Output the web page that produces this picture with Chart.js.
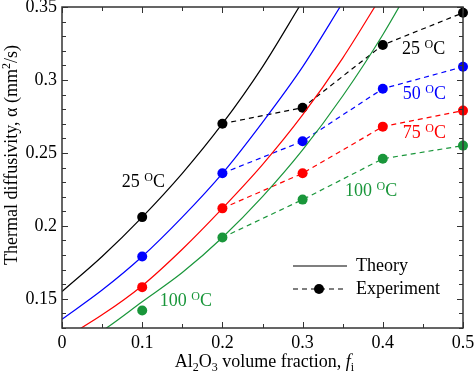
<!DOCTYPE html>
<html>
<head>
<meta charset="utf-8">
<script src="https://cdn.jsdelivr.net/npm/chart.js@4.4.0/dist/chart.umd.min.js"></script>
<style>
  html, body { margin: 0; padding: 0; background: #fff; }
  #wrap { width: 474px; height: 374px; }
</style>
</head>
<body>
<div id="wrap"><canvas id="myChart" width="474" height="374"></canvas></div>
<script>
// experiment, measured at these volume fractions
const fractions = [0.1, 0.2, 0.3, 0.4, 0.5];
const exp25 = [0.206, 0.270, 0.281, 0.324, 0.346];
const exp50 = [0.179, 0.236, 0.258, 0.294, 0.309];
const exp75 = [0.158, 0.212, 0.236, 0.268, 0.279];
const exp100 = [0.142, 0.192, 0.218, 0.246, 0.255];

const theoryFractions = [0, 0.05, 0.1, 0.15, 0.2, 0.25, 0.3, 0.35, 0.4, 0.45];
const theory25 = [0.155, 0.179, 0.206, 0.236, 0.270, 0.309, 0.354];
const theory50 = [0.136, 0.156, 0.179, 0.206, 0.236, 0.271, 0.309, 0.353];
const theory75 = [0.122, 0.139, 0.159, 0.184, 0.212, 0.242, 0.276, 0.315, 0.359];
const theory100 = [0.112, 0.128, 0.148, 0.168, 0.192, 0.220, 0.252, 0.289, 0.331, 0.379];

const xTicks = [0, 0.1, 0.2, 0.3, 0.4, 0.5];
const yTicks = [0.15, 0.2, 0.25, 0.3, 0.35];

const tempNames = ['25', '50', '75', '100'];
const colors = ['#000000', '#0000ff', '#ff0000', '#19963a'];

// label anchors in data units [fraction, diffusivity]
const labelSpots = [
    { text: '25', color: colors[0], at: [0.0745, 0.2267] },
    { text: '25', color: colors[0], at: [0.424, 0.3178] },
    { text: '50', color: colors[1], at: [0.425, 0.287] },
    { text: '75', color: colors[2], at: [0.425, 0.2603] },
    { text: '100', color: colors[3], at: [0.353, 0.2206] },
    { text: '100', color: colors[3], at: [0.122, 0.1452] }
];

const FONT = '"Liberation Serif", "Times New Roman", serif';

function pairs(xs, ys) {
    const out = [];
    for (let i = 0; i < ys.length; i += 1) {
        out.push({ x: xs[i], y: ys[i] });
    }
    return out;
}

const theorySets = [theory25, theory50, theory75, theory100];
const expSets = [exp25, exp50, exp75, exp100];
const datasets = [];
for (let i = 0; i < 4; i += 1) {
    datasets.push({
        label: 'Theory ' + tempNames[i],
        data: pairs(theoryFractions, theorySets[i]),
        borderColor: colors[i],
        borderWidth: 1.2,
        pointRadius: 0,
        cubicInterpolationMode: 'monotone',
        fill: false
    });
}
for (let i = 0; i < 4; i += 1) {
    const c = colors[i];
    datasets.push({
        label: 'Experiment ' + tempNames[i],
        data: pairs(fractions, expSets[i]),
        borderColor: c,
        backgroundColor: c,
        borderWidth: 1.2,
        borderDash: [5, 4],
        // no dashed link between the first two points
        segment: { borderColor: s => s.p0DataIndex === 0 ? 'rgba(0,0,0,0)' : c },
        pointRadius: 5,
        pointBorderWidth: 0,
        pointBackgroundColor: c,
        fill: false,
        clip: false
    });
}

function drawDegree(ctx, num, x, y, color) {
    ctx.fillStyle = color;
    ctx.textAlign = 'left';
    ctx.textBaseline = 'alphabetic';
    ctx.font = '18px ' + FONT;
    const a = num + ' ';
    ctx.fillText(a, x, y);
    let cx = x + ctx.measureText(a).width;
    ctx.font = '12px ' + FONT;
    ctx.fillText('O', cx, y - 6);
    cx += ctx.measureText('O').width;
    ctx.font = '18px ' + FONT;
    ctx.fillText('C', cx, y);
}

// pieces: [text, size, italic, dy]
function drawPieces(ctx, pieces, x, y) {
    let w = 0;
    for (const p of pieces) {
        ctx.font = (p[2] ? 'italic ' : '') + p[1] + 'px ' + FONT;
        w += ctx.measureText(p[0]).width;
    }
    let cx = x - w / 2;
    for (const p of pieces) {
        ctx.font = (p[2] ? 'italic ' : '') + p[1] + 'px ' + FONT;
        ctx.fillText(p[0], cx, y + p[3]);
        cx += ctx.measureText(p[0]).width;
    }
}

const decorPlugin = {
    id: 'decor',
    afterDraw(chart) {
        const ctx = chart.ctx;
        const xs = chart.scales.x;
        const ys = chart.scales.y;
        const a = chart.chartArea;
        ctx.save();

        // inward ticks on all four sides
        ctx.strokeStyle = '#333';
        ctx.lineWidth = 1;
        ctx.beginPath();
        for (let k = 0; k <= 10; k += 1) {
            const px = Math.round(xs.getPixelForValue(k * 0.05)) + 0.5;
            const len = k % 2 === 0 ? 6 : 4;
            ctx.moveTo(px, a.bottom); ctx.lineTo(px, a.bottom - len);
            ctx.moveTo(px, a.top); ctx.lineTo(px, a.top + len);
        }
        for (let k = 13; k <= 35; k += 1) {
            const py = Math.round(ys.getPixelForValue(k / 100)) + 0.5;
            const len = k % 5 === 0 ? 6 : 4;
            ctx.moveTo(a.left, py); ctx.lineTo(a.left + len, py);
            ctx.moveTo(a.right, py); ctx.lineTo(a.right - len, py);
        }
        ctx.stroke();

        ctx.lineWidth = 1.5;
        ctx.strokeRect(a.left, a.top, a.right - a.left, a.bottom - a.top);

        // temperature labels
        for (const l of labelSpots) {
            drawDegree(ctx, l.text, xs.getPixelForValue(l.at[0]), ys.getPixelForValue(l.at[1]), l.color);
        }

        // legend
        ctx.strokeStyle = '#000';
        ctx.fillStyle = '#000';
        ctx.lineWidth = 1.2;
        ctx.beginPath();
        ctx.moveTo(293, 266); ctx.lineTo(347, 266);
        ctx.stroke();
        ctx.setLineDash([5, 4]);
        ctx.beginPath();
        ctx.moveTo(293, 289); ctx.lineTo(347, 289);
        ctx.stroke();
        ctx.setLineDash([]);
        ctx.beginPath();
        ctx.arc(319, 289, 5, 0, Math.PI * 2);
        ctx.fill();
        ctx.font = '18px ' + FONT;
        ctx.textAlign = 'left';
        ctx.textBaseline = 'middle';
        ctx.fillText('Theory', 356, 266);
        ctx.fillText('Experiment', 356, 289);

        // axis titles
        ctx.textAlign = 'left';
        ctx.textBaseline = 'alphabetic';
        drawPieces(ctx, [
            ['Al', 18, false, 0], ['2', 12, false, 4], ['O', 18, false, 0], ['3', 12, false, 4],
            [' volume fraction, ', 18, false, 0], ['f', 18, true, 0], ['i', 12, false, 4]
        ], (a.left + a.right) / 2 + 2, 367);

        ctx.translate(17, 155);
        ctx.rotate(-Math.PI / 2);
        drawPieces(ctx, [
            ['Thermal diffusivity, \u03b1 (mm', 18, false, 0], ['2', 12, false, -7], ['/s)', 18, false, 0]
        ], 0, 0);
        ctx.restore();
    }
};

const ctx = document.getElementById('myChart').getContext('2d');
const myChart = new Chart(ctx, {
    type: 'line',
    data: { datasets: datasets },
    options: {
        responsive: false,
        animation: false,
        layout: { padding: { top: 7, right: 11, left: 0, bottom: 0 } },
        plugins: {
            legend: { display: false },
            tooltip: { enabled: false }
        },
        scales: {
            x: {
                type: 'linear',
                min: 0,
                max: 0.5,
                grid: { display: false, drawTicks: false },
                border: { display: false },
                afterBuildTicks: function (axis) {
                    axis.ticks = xTicks.map(v => ({ value: v }));
                },
                afterFit: function (axis) {
                    axis.height = 46;
                    axis.paddingLeft = 0;
                    axis.paddingRight = 0;
                },
                ticks: {
                    padding: 4,
                    color: '#000',
                    font: { family: FONT, size: 18 },
                    maxRotation: 0,
                    autoSkip: false,
                    callback: v => String(Math.round(v * 10) / 10)
                }
            },
            y: {
                type: 'linear',
                min: 0.13,
                max: 0.35,
                grid: { display: false, drawTicks: false },
                border: { display: false },
                afterBuildTicks: function (axis) {
                    axis.ticks = yTicks.map(v => ({ value: v }));
                },
                afterFit: function (axis) {
                    axis.width = 62;
                    axis.paddingTop = 0;
                    axis.paddingBottom = 0;
                },
                ticks: {
                    padding: 5,
                    color: '#000',
                    font: { family: FONT, size: 18 },
                    autoSkip: false,
                    callback: v => String(Math.round(v * 100) / 100)
                }
            }
        }
    },
    plugins: [decorPlugin]
});
</script>
</body>
</html>
